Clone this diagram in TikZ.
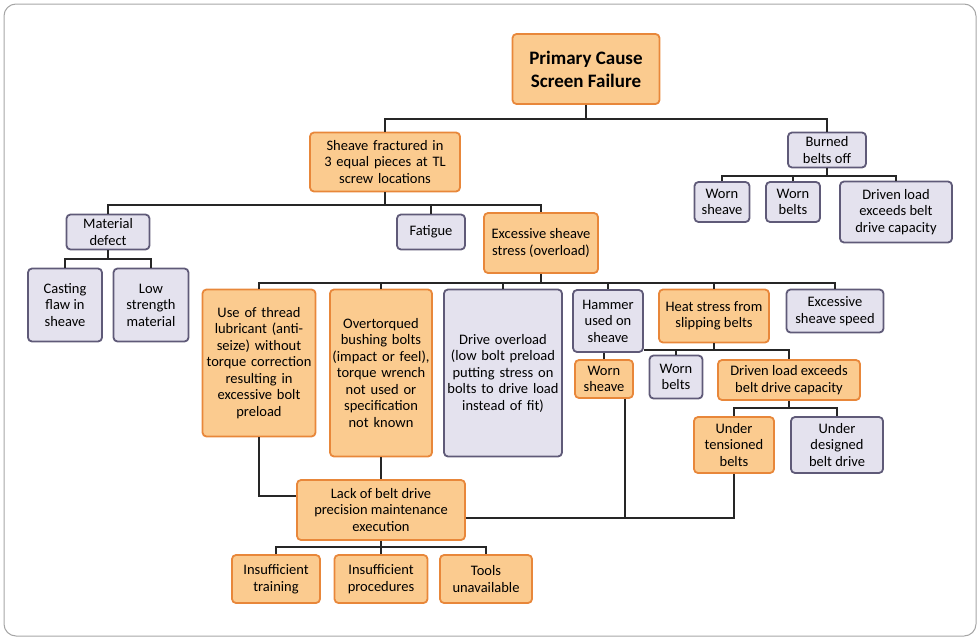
\documentclass[tikz,border=0pt]{standalone}
\usepackage{fontspec}
\setmainfont{Carlito}
\definecolor{ofill}{HTML}{FBCB8F}
\definecolor{odraw}{HTML}{E8873A}
\definecolor{gfill}{HTML}{E4E2EE}
\definecolor{gdraw}{HTML}{5F5A78}
\begin{document}
\begin{tikzpicture}[x=1pt,y=-1pt,
 base/.style={draw,line width=1.8pt,rounded corners=4pt,align=center,inner sep=1pt,font=\fontsize{14.5}{16.5}\selectfont},
 org/.style={base,fill=ofill,draw=odraw},
 gry/.style={base,fill=gfill,draw=gdraw},
 ln/.style={line width=1.6pt,black!85}]
\useasboundingbox (0,0) rectangle (980,640);
\draw[gray!70,line width=1pt,rounded corners=12pt] (4,4) rectangle (976,636);
\node[org,minimum width=147pt,minimum height=70pt,font=\bfseries\fontsize{19}{23}\selectfont] (P) at (586,69) {Primary Cause\\Screen Failure};
\node[org,minimum width=150pt,minimum height=59pt,text width=145pt] (S) at (385,162) {Sheave fractured in\\3 equal pieces at TL\\screw locations};
\node[gry,minimum width=78pt,minimum height=35pt] (B) at (827,150) {Burned\\belts off};
\node[gry,minimum width=55pt,minimum height=40pt] (WS1) at (722,202) {Worn\\sheave};
\node[gry,minimum width=54pt,minimum height=40pt] (WB1) at (793,202) {Worn\\belts};
\node[gry,minimum width=112pt,minimum height=61pt] (DL1) at (896,212) {Driven load\\exceeds belt\\drive capacity};
\node[gry,minimum width=83pt,minimum height=35pt] (MD) at (108,232) {Material\\defect};
\node[gry,minimum width=68pt,minimum height=35pt] (F) at (431,232) {Fatigue};
\node[org,minimum width=114pt,minimum height=60pt] (E) at (541,243) {Excessive sheave\\stress (overload)};
\node[gry,minimum width=74pt,minimum height=73pt] (C) at (65,305) {Casting\\flaw in\\sheave};
\node[gry,minimum width=75pt,minimum height=73pt] (L) at (151,305) {Low\\strength\\material};
\node[org,minimum width=113pt,minimum height=147pt,text width=110pt] (U) at (259,363) {Use of thread\\lubricant (anti-\\seize) without\\torque correction\\resulting in\\excessive bolt\\preload};
\node[org,minimum width=98pt,minimum height=167pt,text width=100pt] (O) at (381,373) {Overtorqued\\bushing bolts\\(impact or feel),\\torque wrench\\not used or\\specification\\not known};
\node[gry,minimum width=118pt,minimum height=167pt,text width=114pt] (D) at (503,373) {Drive overload\\(low bolt preload\\putting stress on\\bolts to drive load\\instead of fit)};
\node[gry,minimum width=70pt,minimum height=62pt] (H) at (608,321) {Hammer\\used on\\sheave};
\node[org,minimum width=110pt,minimum height=53pt] (HS) at (714,316) {Heat stress from\\slipping belts};
\node[gry,minimum width=97pt,minimum height=43pt] (ES) at (835,311) {Excessive\\sheave speed};
\node[org,minimum width=58pt,minimum height=38pt] (WS2) at (604,379) {Worn\\sheave};
\node[gry,minimum width=53pt,minimum height=43pt] (WB2) at (676,377) {Worn\\belts};
\node[org,minimum width=142pt,minimum height=40pt] (DL2) at (789,380) {Driven load exceeds\\belt drive capacity};
\node[org,minimum width=80pt,minimum height=56pt] (UT) at (734,445) {Under\\tensioned\\belts};
\node[gry,minimum width=92pt,minimum height=56pt] (UD) at (837,445) {Under\\designed\\belt drive};
\node[org,minimum width=168pt,minimum height=60pt] (LK) at (381,510) {Lack of belt drive\\precision maintenance\\execution};
\node[org,minimum width=88pt,minimum height=48pt] (T1) at (276,579) {Insufficient\\training};
\node[org,minimum width=93pt,minimum height=48pt] (T2) at (381,579) {Insufficient\\procedures};
\node[org,minimum width=92pt,minimum height=48pt] (T3) at (486,579) {Tools\\unavailable};
\draw[ln] (P.south) -- (586,119) (S.north) |- (586,119) -| (B.north);
\draw[ln] (S.south) -- (385,205) (MD.north) |- (385,205) -| (E.north) (F.north) -- (431,205);
\draw[ln] (B.south) -- (827,176) (WS1.north) |- (827,176) -| (DL1.north) (WB1.north) -- (793,176);
\draw[ln] (MD.south) -- (108,259) (C.north) |- (108,259) -| (L.north);
\draw[ln] (E.south) -- (541,283) (U.north) |- (541,283) -| (ES.north);
\draw[ln] (O.north) -- (381,283) (D.north) -- (503,283) (H.north) -- (608,283) (HS.north) -- (714,283);
\draw[ln] (WS2.north) -- (WS2.north |- H.south);
\draw[ln] (HS.south) -- (714,350) (H.east |- 0,350) -| (DL2.north) (WB2.north) -- (676,350);
\draw[ln] (DL2.south) -- (789,408) (UT.north) |- (789,408) -| (UD.north);
\draw[ln] (U.south) |- (LK.west |- 0,496);
\draw[ln] (O.south) -- (LK.north);
\draw[ln] (LK.east |- 0,518) -| (UT.south) (WS2.south -| 625,0) -- (625,518);
\draw[ln] (LK.south) -- (381,547) (T1.north) |- (381,547) -| (T3.north) (T2.north) -- (381,547);
\end{tikzpicture}
\end{document}
